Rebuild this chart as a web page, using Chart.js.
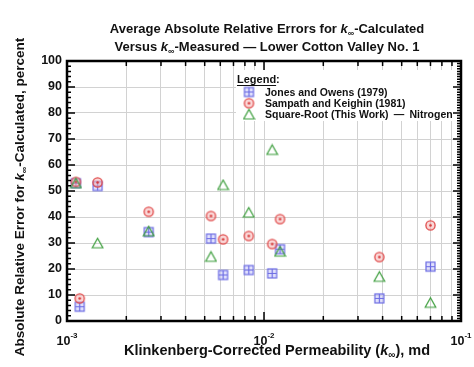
<!DOCTYPE html>
<html>
<head>
<meta charset="utf-8">
<script src="https://cdn.jsdelivr.net/npm/chart.js@4.4.0/dist/chart.umd.min.js"></script>
<style>
    html, body { margin: 0; padding: 0; background: #fff; }
</style>
</head>
<body>
<canvas id="errorChart" width="474" height="367"></canvas>
<script>
// Klinkenberg-corrected permeability, md (one entry per sample)
const permeability   = [0.00111, 0.00116, 0.00143, 0.00260, 0.00538, 0.0062, 0.00837, 0.0110, 0.01206, 0.0385, 0.070];
// Absolute relative error, percent
const jonesOwens     = [53.0, 5.5, 51.9, 34.2, 31.7, 17.7, 19.6, 18.3, 27.6, 8.7, 20.9];
const sampathKeighin = [53.5, 8.7, 53.3, 42.0, 40.4, 31.4, 32.7, 29.6, 39.2, 24.6, 36.8];
const squareRoot     = [53.0, null, 29.9, 34.5, 24.7, 52.3, 41.7, 65.8, 26.7, 17.0, 7.0];

const seriesNames = ['Jones and Owens (1979)', 'Sampath and Keighin (1981)', 'Square-Root (This Work)\u2002\u2014\u2002Nitrogen'];
const decades = [0.001, 0.01, 0.1];
const decadeLabels = ['-3', '-2', '-1'];

const FAM = '"Liberation Sans", Arial, sans-serif';

// log grid positions 1..9 x 10^n
const logTicks = [];
[-3, -2].forEach(e => {
    for (let m = 1; m <= 9; m++) logTicks.push(Number((m * Math.pow(10, e)).toPrecision(3)));
});
logTicks.push(0.1);

function toPoints(values) {
    return permeability.map((k, i) => ({x: k, y: values[i]})).filter(p => p.y !== null);
}

function markerCanvas(draw) {
    const c = document.createElement('canvas');
    c.width = 13;
    c.height = 13;
    draw(c.getContext('2d'));
    return c;
}

const squareMark = markerCanvas(g => {
    g.fillStyle = 'rgba(200,200,250,0.55)';
    g.fillRect(2, 2, 9, 9);
    g.strokeStyle = '#6b6be3';
    g.lineWidth = 1.2;
    g.strokeRect(2, 2, 9, 9);
    g.beginPath();
    g.moveTo(6.5, 2); g.lineTo(6.5, 11);
    g.moveTo(2, 6.5); g.lineTo(11, 6.5);
    g.stroke();
});

const circleMark = markerCanvas(g => {
    g.fillStyle = 'rgba(245,175,175,0.5)';
    g.strokeStyle = '#e04a4a';
    g.lineWidth = 1.3;
    g.beginPath();
    g.arc(6.5, 6.5, 4.6, 0, Math.PI * 2);
    g.fill();
    g.stroke();
    g.fillStyle = '#d83838';
    g.beginPath();
    g.arc(6.5, 6.5, 1.3, 0, Math.PI * 2);
    g.fill();
});

const triangleMark = markerCanvas(g => {
    g.strokeStyle = '#3d9e3d';
    g.lineWidth = 1.2;
    g.beginPath();
    g.moveTo(6.5, 1.5);
    g.lineTo(11.8, 11);
    g.lineTo(1.2, 11);
    g.closePath();
    g.stroke();
});

const markers = [squareMark, circleMark, triangleMark];

// text with italic k and subscript infinity
function kInf(size) {
    return [
        {text: 'k', font: 'italic bold ' + size + 'px ' + FAM},
        {text: '\u221E', font: 'bold ' + Math.round(size * 0.7) + 'px ' + FAM, dy: 3}
    ];
}

function richWidth(g, segs) {
    let w = 0;
    segs.forEach(s => { g.font = s.font; w += g.measureText(s.text).width; });
    return w;
}

function drawRich(g, segs, cx, y) {
    let x = cx - richWidth(g, segs) / 2;
    g.textAlign = 'left';
    g.textBaseline = 'alphabetic';
    segs.forEach(s => {
        g.font = s.font;
        g.fillText(s.text, x, y + (s.dy || 0));
        x += g.measureText(s.text).width;
    });
}

function bold(size, text) {
    return {text: text, font: 'bold ' + size + 'px ' + FAM};
}

const decorations = {
    id: 'decorations',
    afterDraw(chart) {
        const g = chart.ctx;
        const a = chart.chartArea;
        const xs = chart.scales.x;
        const ys = chart.scales.y;
        g.save();

        // legend box
        g.fillStyle = '#fff';
        g.fillRect(236, 70, a.right - 236, 51);
        g.fillStyle = '#111';
        g.font = 'bold 11px ' + FAM;
        g.textAlign = 'left';
        g.textBaseline = 'alphabetic';
        g.fillText('Legend:', 237, 83);
        const lw = g.measureText('Legend').width;
        g.strokeStyle = '#111';
        g.lineWidth = 1;
        g.beginPath();
        g.moveTo(237, 85.5); g.lineTo(237 + lw, 85.5);
        g.stroke();
        g.font = 'bold 10.5px ' + FAM;
        seriesNames.forEach((name, i) => {
            const cy = 92 + i * 11.2;
            g.drawImage(markers[i], 249 - 6.5, cy - 6.5);
            g.fillText(name, 265, cy + 4);
        });

        // frame
        g.strokeStyle = '#000';
        g.lineWidth = 2.5;
        g.strokeRect(a.left, a.top, a.right - a.left, a.bottom - a.top);

        // tick marks pointing inward
        g.lineWidth = 1.5;
        g.beginPath();
        for (let v = 0; v <= 100; v += 2) {
            const py = ys.getPixelForValue(v);
            const len = v % 10 === 0 ? 8 : 4;
            g.moveTo(a.left, py); g.lineTo(a.left + len, py);
        }
        for (let v = 0; v <= 100; v += 1) {
            const py = ys.getPixelForValue(v);
            const len = v % 10 === 0 ? 8 : 4;
            g.moveTo(a.right, py); g.lineTo(a.right - len, py);
        }
        logTicks.forEach(v => {
            const px = xs.getPixelForValue(v);
            const len = decades.includes(v) ? 9 : 5;
            g.moveTo(px, a.bottom); g.lineTo(px, a.bottom - len);
            g.moveTo(px, a.top); g.lineTo(px, a.top + len);
        });
        g.stroke();

        // x tick labels 10^n
        g.fillStyle = '#111';
        decades.forEach((v, i) => {
            const px = xs.getPixelForValue(v);
            drawRich(g, [
                bold(12.5, '10'),
                {text: decadeLabels[i], font: 'bold 8px ' + FAM, dy: -7}
            ], px, 345);
        });

        // chart title
        drawRich(g, [bold(13, 'Average Absolute Relative Errors for ')]
            .concat(kInf(13), [bold(13, '-Calculated')]), 267, 33);
        drawRich(g, [bold(13, 'Versus ')]
            .concat(kInf(13), [bold(13, '-Measured \u2014 Lower Cotton Valley No. 1')]), 267, 51);

        // x axis title
        drawRich(g, [bold(14.5, 'Klinkenberg-Corrected Permeability (')]
            .concat(kInf(14.5), [bold(14.5, '), md')]), 277, 355);

        // y axis title
        g.save();
        g.translate(24, 197);
        g.rotate(-Math.PI / 2);
        drawRich(g, [bold(13.5, 'Absolute Relative Error for ')]
            .concat(kInf(13.5), [bold(13.5, '-Calculated, percent')]), 0, 0);
        g.restore();

        g.restore();
    }
};

const ctx = document.getElementById('errorChart').getContext('2d');

new Chart(ctx, {
    type: 'scatter',
    data: {
        datasets: [
            {label: seriesNames[0], data: toPoints(jonesOwens), pointStyle: squareMark, order: 3},
            {label: seriesNames[1], data: toPoints(sampathKeighin), pointStyle: circleMark, order: 2},
            {label: seriesNames[2], data: toPoints(squareRoot), pointStyle: triangleMark, order: 1}
        ]
    },
    options: {
        responsive: false,
        animation: false,
        layout: {
            padding: {top: 61, right: 13, left: 0, bottom: 0}
        },
        scales: {
            x: {
                type: 'logarithmic',
                min: 0.001,
                max: 0.1,
                afterBuildTicks: s => { s.ticks = logTicks.map(v => ({value: v})); },
                afterFit: s => { s.height = 46; },
                ticks: {display: false},
                grid: {color: '#d2d2d2', drawTicks: false},
                border: {display: false}
            },
            y: {
                min: 0,
                max: 100,
                afterFit: s => { s.width = 67; },
                ticks: {
                    stepSize: 10,
                    padding: 5,
                    color: '#111',
                    font: {family: FAM, size: 12.5, weight: 'bold'}
                },
                grid: {color: '#d2d2d2', drawTicks: false},
                border: {display: false}
            }
        },
        plugins: {
            legend: {display: false},
            tooltip: {enabled: false}
        }
    },
    plugins: [decorations]
});
</script>
</body>
</html>
